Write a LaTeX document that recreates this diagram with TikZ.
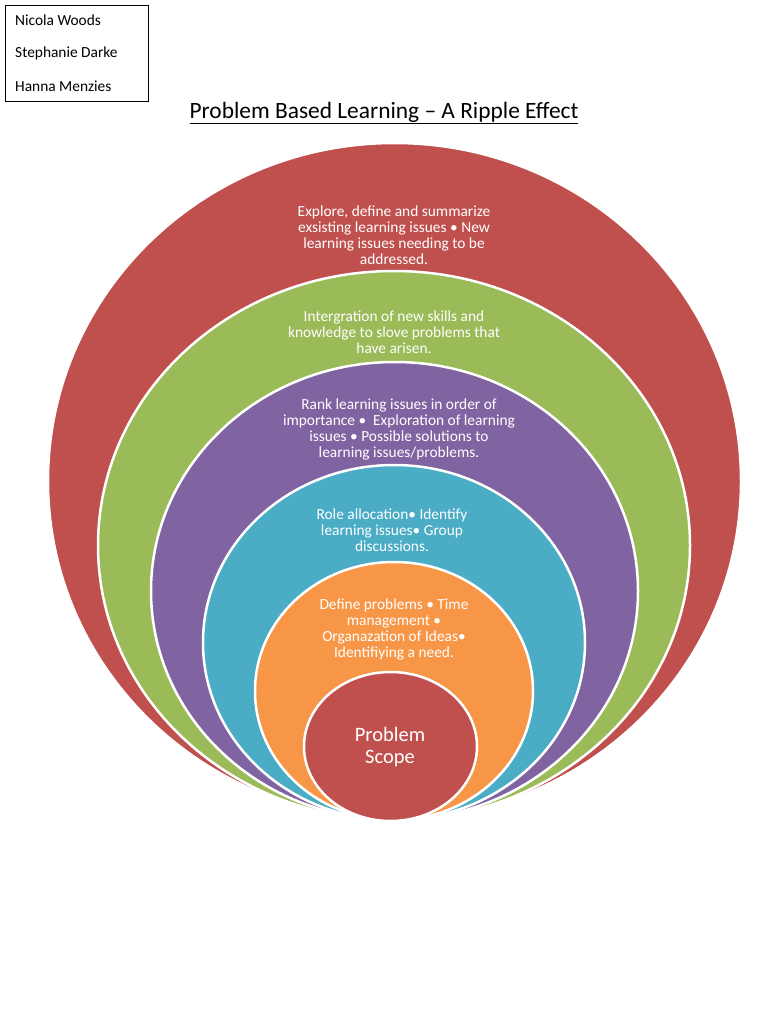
\documentclass[tikz,border=0pt]{standalone}
\usepackage{fontspec}
\setmainfont{Carlito}
\definecolor{ringred}{HTML}{C0504D}
\definecolor{ringgreen}{HTML}{9BBB59}
\definecolor{ringpurple}{HTML}{8064A2}
\definecolor{ringblue}{HTML}{4BACC6}
\definecolor{ringorange}{HTML}{F79646}
\begin{document}
\begin{tikzpicture}[x=1pt,y=-1pt,
  ring/.style={draw=white,line width=2.5pt},
  ringtext/.style={text=white,align=center,font=\fontsize{15.4}{16}\selectfont,inner sep=0pt},
  namelabel/.style={anchor=west,font=\fontsize{15.4}{17}\selectfont,inner sep=0pt}]
\useasboundingbox[fill=white] (0,0) rectangle (768,1024);
% names box
\draw[line width=0.8pt] (5,5) rectangle (148,101);
\node[namelabel] (n1) at (15,20) {Nicola Woods};
\node[namelabel] (n2) at (15,53) {Stephanie Darke};
\node[namelabel] (n3) at (15,86) {Hanna Menzies};
% title
\node[font=\fontsize{23.4}{27}\selectfont,inner sep=0pt] (title) at (384,113) {\underline{Problem Based Learning – A Ripple Effect}};
% rings
\fill[ringred,ring] (394.5,481) ellipse [x radius=346.5, y radius=338];
\fill[ringgreen,ring] (394,545.5) ellipse [x radius=296, y radius=274.5];
\fill[ringpurple,ring] (394.5,591) ellipse [x radius=243.5, y radius=229];
\fill[ringblue,ring] (394,642.5) ellipse [x radius=191, y radius=177.5];
\fill[ringorange,ring] (394,691) ellipse [x radius=139, y radius=129];
\fill[ringred,ring] (390.5,746.5) ellipse [x radius=86.5, y radius=74.5];
% texts
\node[ringtext] (t1) at (394,235) {Explore, define and summarize\\exsisting learning issues • New\\learning issues needing to be\\addressed.};
\node[ringtext] (t2) at (394,332) {Intergration of new skills and\\knowledge to slove problems that\\have arisen.};
\node[ringtext] (t3) at (399,429) {Rank learning issues in order of\\importance •\ \ Exploration of learning\\issues • Possible solutions to\\learning issues/problems.};
\node[ringtext] (t4) at (392,530) {Role allocation• Identify\\learning issues• Group\\discussions.};
\node[ringtext] (t5) at (394,629) {Define problems • Time\\management •\\Organazation of Ideas•\\Identifiying a need.};
\node[ringtext,font=\fontsize{20.5}{22}\selectfont] (t6) at (390,747) {Problem\\Scope};
\end{tikzpicture}
\end{document}
